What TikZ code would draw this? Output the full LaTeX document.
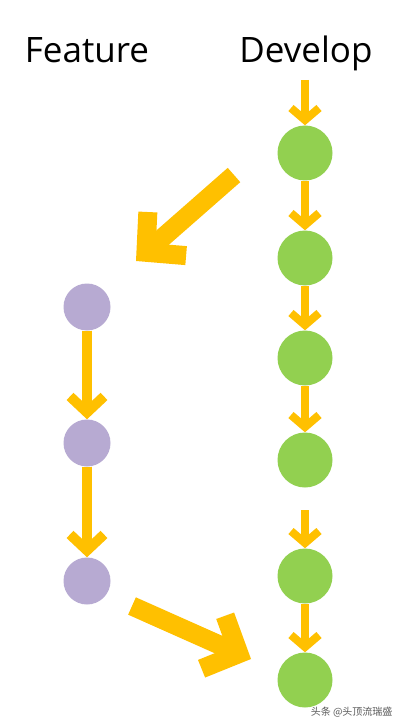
\documentclass[tikz,border=0pt]{standalone}
\usepackage{fontspec}
\setmainfont{Open Sans}
\newfontfamily\cjkfont{Noto Sans CJK SC}
\usetikzlibrary{arrows.meta}
\definecolor{devgreen}{HTML}{92D050}
\definecolor{featpurple}{HTML}{B7AAD2}
\definecolor{flowgold}{HTML}{FFC000}
\tikzset{
	devcommit/.style={circle, fill=devgreen, minimum size=55pt, inner sep=0pt},
	featcommit/.style={circle, fill=featpurple, minimum size=47pt, inner sep=0pt},
	devflow/.style={draw=flowgold, line width=8pt, -{Straight Barb[length=12pt,width=28pt]}},
	featflow/.style={draw=flowgold, line width=10pt, -{Straight Barb[length=16pt,width=34pt]}},
	mergeflow/.style={draw=flowgold, line width=19pt, -{Straight Barb[length=28pt,width=58pt]}},
	branchtitle/.style={font=\fontsize{35}{40}\selectfont, inner sep=0pt}
}

\begin{document}
\begin{tikzpicture}[x=1pt,y=-1pt]
	\useasboundingbox[fill=white] (0,0) rectangle (400,727);

	% branch titles
	\node[branchtitle, anchor=base] (feattitle) at (87,63) {Feature};
	\node[branchtitle, anchor=base] (devtitle) at (306,63) {Develop};

	% develop commits
	\node[devcommit] (d1) at (305,153) {};
	\node[devcommit] (d2) at (305,258) {};
	\node[devcommit] (d3) at (305,358) {};
	\node[devcommit] (d4) at (305,460) {};
	\node[devcommit] (d5) at (305,576) {};
	\node[devcommit] (d6) at (305,680) {};

	% feature commits
	\node[featcommit] (f1) at (87,307) {};
	\node[featcommit] (f2) at (87,443) {};
	\node[featcommit] (f3) at (87,581) {};

	\coordinate (dstart) at (305,80);
	\coordinate (dgap) at (305,510);
	\coordinate (branchfrom) at (234,175);
	\coordinate (branchto) at (136,261);
	\coordinate (mergefrom) at (132,606);
	\coordinate (mergeto) at (251,659);

	\draw[devflow] (dstart) -- (d1.north);
	\draw[devflow] (d1.south) -- (d2.north);
	\draw[devflow] (d2.south) -- (d3.north);
	\draw[devflow] (d3.south) -- (d4.north);
	\draw[devflow] (dgap) -- (d5.north);
	\draw[devflow] (d5.south) -- (d6.north);

	\draw[featflow] (f1.south) -- (f2.north);
	\draw[featflow] (f2.south) -- (f3.north);

	\draw[mergeflow] (branchfrom) -- (branchto);
	\draw[mergeflow] (mergefrom) -- (mergeto);

	% watermark
	\node[font=\cjkfont\fontsize{10}{12}\selectfont, text=black!65, anchor=east] (mark) at (396,712) {头条 @头顶流瑞盛};
\end{tikzpicture}
\end{document}
